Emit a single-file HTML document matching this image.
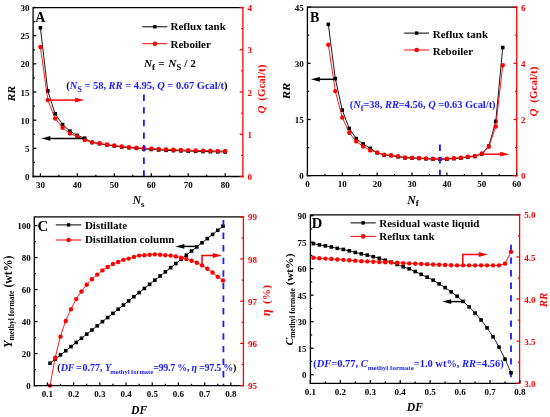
<!DOCTYPE html>
<html><head><meta charset="utf-8"><title>Figure</title>
<style>html,body{margin:0;padding:0;background:#fff;width:550px;height:417px;overflow:hidden}svg{display:block;filter:blur(0.3px)}</style>
</head><body>
<svg width="550" height="417" viewBox="0 0 550 417" font-family="&#39;Liberation Serif&#39;, &#39;Times New Roman&#39;, serif" font-weight="bold">
<rect width="550" height="417" fill="#fff"/>
<polyline points="40.4,27.79 47.79,90.88 55.18,113.8 62.58,124.62 69.97,131.1 77.36,135.38 84.75,138.2 92.14,142.53 99.54,143.72 106.93,144.96 114.32,145.97 121.71,146.98 129.1,147.72 136.5,148.34 143.89,148.9 151.28,149.46 158.67,149.91 166.06,150.31 173.46,150.59 180.85,150.87 188.24,151.1 195.63,151.32 203.02,151.49 210.42,151.66 217.81,151.83 225.2,151.94" fill="none" stroke="#000" stroke-width="0.9" stroke-linejoin="round"/>
<rect x="38.6" y="25.99" width="3.6" height="3.6" fill="#000"/>
<rect x="45.99" y="89.08" width="3.6" height="3.6" fill="#000"/>
<rect x="53.38" y="112" width="3.6" height="3.6" fill="#000"/>
<rect x="60.78" y="122.82" width="3.6" height="3.6" fill="#000"/>
<rect x="68.17" y="129.3" width="3.6" height="3.6" fill="#000"/>
<rect x="75.56" y="133.58" width="3.6" height="3.6" fill="#000"/>
<rect x="82.95" y="136.4" width="3.6" height="3.6" fill="#000"/>
<rect x="90.34" y="140.73" width="3.6" height="3.6" fill="#000"/>
<rect x="97.74" y="141.92" width="3.6" height="3.6" fill="#000"/>
<rect x="105.13" y="143.16" width="3.6" height="3.6" fill="#000"/>
<rect x="112.52" y="144.17" width="3.6" height="3.6" fill="#000"/>
<rect x="119.91" y="145.18" width="3.6" height="3.6" fill="#000"/>
<rect x="127.3" y="145.92" width="3.6" height="3.6" fill="#000"/>
<rect x="134.7" y="146.53" width="3.6" height="3.6" fill="#000"/>
<rect x="142.09" y="147.1" width="3.6" height="3.6" fill="#000"/>
<rect x="149.48" y="147.66" width="3.6" height="3.6" fill="#000"/>
<rect x="156.87" y="148.11" width="3.6" height="3.6" fill="#000"/>
<rect x="164.26" y="148.51" width="3.6" height="3.6" fill="#000"/>
<rect x="171.66" y="148.79" width="3.6" height="3.6" fill="#000"/>
<rect x="179.05" y="149.07" width="3.6" height="3.6" fill="#000"/>
<rect x="186.44" y="149.3" width="3.6" height="3.6" fill="#000"/>
<rect x="193.83" y="149.52" width="3.6" height="3.6" fill="#000"/>
<rect x="201.22" y="149.69" width="3.6" height="3.6" fill="#000"/>
<rect x="208.62" y="149.86" width="3.6" height="3.6" fill="#000"/>
<rect x="216.01" y="150.03" width="3.6" height="3.6" fill="#000"/>
<rect x="223.4" y="150.14" width="3.6" height="3.6" fill="#000"/>
<polyline points="40.4,46.93 47.79,100.11 55.18,118.59 62.58,127.77 69.97,133.52 77.36,136.78 84.75,140 92.14,142.19 99.54,143.32 106.93,144.5 114.32,145.52 121.71,146.47 129.1,147.21 136.5,147.77 143.89,148.22 151.28,148.67 158.67,149.07 166.06,149.4 173.46,149.69 180.85,149.97 188.24,150.19 195.63,150.42 203.02,150.59 210.42,150.76 217.81,150.92 225.2,151.04" fill="none" stroke="#f00" stroke-width="0.9" stroke-linejoin="round"/>
<circle cx="40.4" cy="46.93" r="2.2" fill="#f00"/>
<circle cx="47.79" cy="100.11" r="2.2" fill="#f00"/>
<circle cx="55.18" cy="118.59" r="2.2" fill="#f00"/>
<circle cx="62.58" cy="127.77" r="2.2" fill="#f00"/>
<circle cx="69.97" cy="133.52" r="2.2" fill="#f00"/>
<circle cx="77.36" cy="136.78" r="2.2" fill="#f00"/>
<circle cx="84.75" cy="140" r="2.2" fill="#f00"/>
<circle cx="92.14" cy="142.19" r="2.2" fill="#f00"/>
<circle cx="99.54" cy="143.32" r="2.2" fill="#f00"/>
<circle cx="106.93" cy="144.5" r="2.2" fill="#f00"/>
<circle cx="114.32" cy="145.52" r="2.2" fill="#f00"/>
<circle cx="121.71" cy="146.47" r="2.2" fill="#f00"/>
<circle cx="129.1" cy="147.21" r="2.2" fill="#f00"/>
<circle cx="136.5" cy="147.77" r="2.2" fill="#f00"/>
<circle cx="143.89" cy="148.22" r="2.2" fill="#f00"/>
<circle cx="151.28" cy="148.67" r="2.2" fill="#f00"/>
<circle cx="158.67" cy="149.07" r="2.2" fill="#f00"/>
<circle cx="166.06" cy="149.4" r="2.2" fill="#f00"/>
<circle cx="173.46" cy="149.69" r="2.2" fill="#f00"/>
<circle cx="180.85" cy="149.97" r="2.2" fill="#f00"/>
<circle cx="188.24" cy="150.19" r="2.2" fill="#f00"/>
<circle cx="195.63" cy="150.42" r="2.2" fill="#f00"/>
<circle cx="203.02" cy="150.59" r="2.2" fill="#f00"/>
<circle cx="210.42" cy="150.76" r="2.2" fill="#f00"/>
<circle cx="217.81" cy="150.92" r="2.2" fill="#f00"/>
<circle cx="225.2" cy="151.04" r="2.2" fill="#f00"/>
<line x1="143.89" y1="94.6" x2="143.89" y2="176" stroke="#1a1aff" stroke-width="1.8" stroke-dasharray="6.4 6.2"/>
<path d="M33.1 176.5 V7.6 H242.9" fill="none" stroke="#000" stroke-width="1.3" stroke-linecap="square"/>
<line x1="33.1" y1="176.5" x2="242.9" y2="176.5" stroke="#000" stroke-width="1.3" stroke-linecap="square"/>
<line x1="242.9" y1="7.6" x2="242.9" y2="176.5" stroke="#f00" stroke-width="1.3" stroke-linecap="square"/>
<line x1="33.1" y1="176.5" x2="36.3" y2="176.5" stroke="#000" stroke-width="1.25" />
<line x1="33.1" y1="148.34" x2="36.3" y2="148.34" stroke="#000" stroke-width="1.25" />
<line x1="33.1" y1="120.17" x2="36.3" y2="120.17" stroke="#000" stroke-width="1.25" />
<line x1="33.1" y1="92" x2="36.3" y2="92" stroke="#000" stroke-width="1.25" />
<line x1="33.1" y1="63.84" x2="36.3" y2="63.84" stroke="#000" stroke-width="1.25" />
<line x1="33.1" y1="35.68" x2="36.3" y2="35.68" stroke="#000" stroke-width="1.25" />
<line x1="33.1" y1="7.51" x2="36.3" y2="7.51" stroke="#000" stroke-width="1.25" />
<line x1="33.1" y1="162.42" x2="34.9" y2="162.42" stroke="#000" stroke-width="1.25" />
<line x1="33.1" y1="134.25" x2="34.9" y2="134.25" stroke="#000" stroke-width="1.25" />
<line x1="33.1" y1="106.09" x2="34.9" y2="106.09" stroke="#000" stroke-width="1.25" />
<line x1="33.1" y1="77.92" x2="34.9" y2="77.92" stroke="#000" stroke-width="1.25" />
<line x1="33.1" y1="49.76" x2="34.9" y2="49.76" stroke="#000" stroke-width="1.25" />
<line x1="33.1" y1="21.59" x2="34.9" y2="21.59" stroke="#000" stroke-width="1.25" />
<line x1="40.4" y1="176.5" x2="40.4" y2="173.3" stroke="#000" stroke-width="1.25" />
<line x1="77.36" y1="176.5" x2="77.36" y2="173.3" stroke="#000" stroke-width="1.25" />
<line x1="114.32" y1="176.5" x2="114.32" y2="173.3" stroke="#000" stroke-width="1.25" />
<line x1="151.28" y1="176.5" x2="151.28" y2="173.3" stroke="#000" stroke-width="1.25" />
<line x1="188.24" y1="176.5" x2="188.24" y2="173.3" stroke="#000" stroke-width="1.25" />
<line x1="225.2" y1="176.5" x2="225.2" y2="173.3" stroke="#000" stroke-width="1.25" />
<line x1="58.88" y1="176.5" x2="58.88" y2="174.7" stroke="#000" stroke-width="1.25" />
<line x1="95.84" y1="176.5" x2="95.84" y2="174.7" stroke="#000" stroke-width="1.25" />
<line x1="132.8" y1="176.5" x2="132.8" y2="174.7" stroke="#000" stroke-width="1.25" />
<line x1="169.76" y1="176.5" x2="169.76" y2="174.7" stroke="#000" stroke-width="1.25" />
<line x1="206.72" y1="176.5" x2="206.72" y2="174.7" stroke="#000" stroke-width="1.25" />
<line x1="239.7" y1="176.5" x2="242.9" y2="176.5" stroke="#f00" stroke-width="1.25" />
<line x1="239.7" y1="134.25" x2="242.9" y2="134.25" stroke="#f00" stroke-width="1.25" />
<line x1="239.7" y1="92" x2="242.9" y2="92" stroke="#f00" stroke-width="1.25" />
<line x1="239.7" y1="49.75" x2="242.9" y2="49.75" stroke="#f00" stroke-width="1.25" />
<line x1="239.7" y1="7.5" x2="242.9" y2="7.5" stroke="#f00" stroke-width="1.25" />
<line x1="241.1" y1="155.38" x2="242.9" y2="155.38" stroke="#f00" stroke-width="1.25" />
<line x1="241.1" y1="113.12" x2="242.9" y2="113.12" stroke="#f00" stroke-width="1.25" />
<line x1="241.1" y1="70.88" x2="242.9" y2="70.88" stroke="#f00" stroke-width="1.25" />
<line x1="241.1" y1="28.62" x2="242.9" y2="28.62" stroke="#f00" stroke-width="1.25" />
<text x="29.4" y="180.1" font-size="9.0" text-anchor="end" fill="#000" >0</text>
<text x="29.4" y="151.94" font-size="9.0" text-anchor="end" fill="#000" >5</text>
<text x="29.4" y="123.77" font-size="9.0" text-anchor="end" fill="#000" >10</text>
<text x="29.4" y="95.6" font-size="9.0" text-anchor="end" fill="#000" >15</text>
<text x="29.4" y="67.44" font-size="9.0" text-anchor="end" fill="#000" >20</text>
<text x="29.4" y="39.28" font-size="9.0" text-anchor="end" fill="#000" >25</text>
<text x="29.4" y="11.11" font-size="9.0" text-anchor="end" fill="#000" >30</text>
<text x="40.4" y="187.8" font-size="9.0" text-anchor="middle" fill="#000" >30</text>
<text x="77.36" y="187.8" font-size="9.0" text-anchor="middle" fill="#000" >40</text>
<text x="114.32" y="187.8" font-size="9.0" text-anchor="middle" fill="#000" >50</text>
<text x="151.28" y="187.8" font-size="9.0" text-anchor="middle" fill="#000" >60</text>
<text x="188.24" y="187.8" font-size="9.0" text-anchor="middle" fill="#000" >70</text>
<text x="225.2" y="187.8" font-size="9.0" text-anchor="middle" fill="#000" >80</text>
<text x="247.5" y="180.1" font-size="9.0" text-anchor="start" fill="#f00" >0</text>
<text x="247.5" y="137.85" font-size="9.0" text-anchor="start" fill="#f00" >1</text>
<text x="247.5" y="95.6" font-size="9.0" text-anchor="start" fill="#f00" >2</text>
<text x="247.5" y="53.35" font-size="9.0" text-anchor="start" fill="#f00" >3</text>
<text x="247.5" y="11.1" font-size="9.0" text-anchor="start" fill="#f00" >4</text>
<path d="M47.4,100.1 L76.2,100.1" fill="none" stroke="#f00" stroke-width="1.5"/>
<polygon points="84.2,100.1 75.2,102.5 75.2,97.7" fill="#f00"/>
<path d="M84.5,138.4 L49.3,138.4" fill="none" stroke="#000" stroke-width="1.5"/>
<polygon points="41.3,138.4 50.3,136 50.3,140.8" fill="#000"/>
<text x="35.3" y="22.2" font-size="14.0" text-anchor="start" fill="#000" >A</text>
<line x1="142.3" y1="26.8" x2="167.4" y2="26.8" stroke="#000" stroke-width="1.0" />
<rect x="153.15" y="25.1" width="3.4" height="3.4" fill="#000"/>
<text x="170.5" y="29.8" font-size="11" text-anchor="start" fill="#000" >Reflux tank</text>
<line x1="142.3" y1="43.7" x2="167.4" y2="43.7" stroke="#f00" stroke-width="1.0" />
<circle cx="154.85" cy="43.7" r="2.3" fill="#f00"/>
<text x="170.5" y="48" font-size="11" text-anchor="start" fill="#000" >Reboiler</text>
<text x="144" y="66.8" font-size="11.2" text-anchor="start" fill="#000" ><tspan font-style="italic">N</tspan><tspan font-size="8.8" dy="3.0">f</tspan><tspan dy="-3.0" dx="0.4"> = </tspan><tspan font-style="italic" dx="0.9">N</tspan><tspan font-size="8.6" dy="2.8">S</tspan><tspan dy="-2.8" dx="0.3"> / 2</tspan></text>
<text x="66.2" y="89.3" font-size="10.45" text-anchor="start" fill="#000" >(<tspan fill="#1a1aff"><tspan font-style="italic">N</tspan><tspan font-size="8.2" dy="2.6">S</tspan><tspan dy="-2.6"> = 58, </tspan><tspan font-style="italic">RR</tspan> = 4.95, <tspan font-style="italic">Q</tspan> = 0.67 Gcal/t</tspan>)</text>
<text transform="translate(15.3,93.65) rotate(-90) scale(1.12,1)" font-size="10.6" text-anchor="middle" font-style="italic">RR</text>
<text x="138.6" y="203.9" font-size="11.6" text-anchor="middle" fill="#000" ><tspan font-style="italic">N</tspan><tspan font-size="9" dy="2.8">s</tspan></text>
<text transform="translate(265,113.6) rotate(-90) scale(1.06,1)" font-size="10.4" fill="#f00"><tspan font-style="italic">Q</tspan><tspan dx="4.6">(Gcal/t)</tspan></text>
<polyline points="328.33,24.32 335.3,78.65 342.28,110.13 349.26,128.49 356.23,138.6 363.21,144 370.18,148.38 377.16,152.82 384.14,155.07 391.11,155.63 398.09,156.76 405.06,157.88 412.04,158.16 419.02,158.45 425.99,158.81 432.97,159.21 439.94,159.29 446.92,159.21 453.9,158.59 460.87,158.16 467.85,157.04 474.82,156.48 481.8,153.95 488.78,146.1 495.75,121.37 502.73,47.55" fill="none" stroke="#000" stroke-width="0.9" stroke-linejoin="round"/>
<rect x="326.53" y="22.52" width="3.6" height="3.6" fill="#000"/>
<rect x="333.5" y="76.85" width="3.6" height="3.6" fill="#000"/>
<rect x="340.48" y="108.33" width="3.6" height="3.6" fill="#000"/>
<rect x="347.46" y="126.69" width="3.6" height="3.6" fill="#000"/>
<rect x="354.43" y="136.8" width="3.6" height="3.6" fill="#000"/>
<rect x="361.41" y="142.2" width="3.6" height="3.6" fill="#000"/>
<rect x="368.38" y="146.58" width="3.6" height="3.6" fill="#000"/>
<rect x="375.36" y="151.02" width="3.6" height="3.6" fill="#000"/>
<rect x="382.34" y="153.27" width="3.6" height="3.6" fill="#000"/>
<rect x="389.31" y="153.83" width="3.6" height="3.6" fill="#000"/>
<rect x="396.29" y="154.96" width="3.6" height="3.6" fill="#000"/>
<rect x="403.26" y="156.08" width="3.6" height="3.6" fill="#000"/>
<rect x="410.24" y="156.36" width="3.6" height="3.6" fill="#000"/>
<rect x="417.22" y="156.65" width="3.6" height="3.6" fill="#000"/>
<rect x="424.19" y="157.01" width="3.6" height="3.6" fill="#000"/>
<rect x="431.17" y="157.41" width="3.6" height="3.6" fill="#000"/>
<rect x="438.14" y="157.49" width="3.6" height="3.6" fill="#000"/>
<rect x="445.12" y="157.41" width="3.6" height="3.6" fill="#000"/>
<rect x="452.1" y="156.79" width="3.6" height="3.6" fill="#000"/>
<rect x="459.07" y="156.36" width="3.6" height="3.6" fill="#000"/>
<rect x="466.05" y="155.24" width="3.6" height="3.6" fill="#000"/>
<rect x="473.02" y="154.68" width="3.6" height="3.6" fill="#000"/>
<rect x="480" y="152.15" width="3.6" height="3.6" fill="#000"/>
<rect x="486.98" y="144.3" width="3.6" height="3.6" fill="#000"/>
<rect x="493.95" y="119.57" width="3.6" height="3.6" fill="#000"/>
<rect x="500.93" y="45.75" width="3.6" height="3.6" fill="#000"/>
<polyline points="328.33,44.75 335.3,91.12 342.28,117.53 349.26,132.71 356.23,141.42 363.21,146.48 370.18,150.41 377.16,152.38 384.14,154.62 391.11,155.19 398.09,156.31 405.06,157.44 412.04,157.72 419.02,158 425.99,158.36 432.97,158.76 439.94,158.84 446.92,158.76 453.9,158.14 460.87,157.72 467.85,156.59 474.82,156.03 481.8,153.5 488.78,146.76 495.75,126.52 502.73,65.27" fill="none" stroke="#f00" stroke-width="0.9" stroke-linejoin="round"/>
<circle cx="328.33" cy="44.75" r="2.2" fill="#f00"/>
<circle cx="335.3" cy="91.12" r="2.2" fill="#f00"/>
<circle cx="342.28" cy="117.53" r="2.2" fill="#f00"/>
<circle cx="349.26" cy="132.71" r="2.2" fill="#f00"/>
<circle cx="356.23" cy="141.42" r="2.2" fill="#f00"/>
<circle cx="363.21" cy="146.48" r="2.2" fill="#f00"/>
<circle cx="370.18" cy="150.41" r="2.2" fill="#f00"/>
<circle cx="377.16" cy="152.38" r="2.2" fill="#f00"/>
<circle cx="384.14" cy="154.62" r="2.2" fill="#f00"/>
<circle cx="391.11" cy="155.19" r="2.2" fill="#f00"/>
<circle cx="398.09" cy="156.31" r="2.2" fill="#f00"/>
<circle cx="405.06" cy="157.44" r="2.2" fill="#f00"/>
<circle cx="412.04" cy="157.72" r="2.2" fill="#f00"/>
<circle cx="419.02" cy="158" r="2.2" fill="#f00"/>
<circle cx="425.99" cy="158.36" r="2.2" fill="#f00"/>
<circle cx="432.97" cy="158.76" r="2.2" fill="#f00"/>
<circle cx="439.94" cy="158.84" r="2.2" fill="#f00"/>
<circle cx="446.92" cy="158.76" r="2.2" fill="#f00"/>
<circle cx="453.9" cy="158.14" r="2.2" fill="#f00"/>
<circle cx="460.87" cy="157.72" r="2.2" fill="#f00"/>
<circle cx="467.85" cy="156.59" r="2.2" fill="#f00"/>
<circle cx="474.82" cy="156.03" r="2.2" fill="#f00"/>
<circle cx="481.8" cy="153.5" r="2.2" fill="#f00"/>
<circle cx="488.78" cy="146.76" r="2.2" fill="#f00"/>
<circle cx="495.75" cy="126.52" r="2.2" fill="#f00"/>
<circle cx="502.73" cy="65.27" r="2.2" fill="#f00"/>
<line x1="439.94" y1="144.5" x2="439.94" y2="175.5" stroke="#1a1aff" stroke-width="1.8" stroke-dasharray="6.4 6.2"/>
<path d="M307.4 175.7 V7.2 H516.7" fill="none" stroke="#000" stroke-width="1.3" stroke-linecap="square"/>
<line x1="307.4" y1="175.7" x2="516.7" y2="175.7" stroke="#000" stroke-width="1.3" stroke-linecap="square"/>
<line x1="516.7" y1="7.2" x2="516.7" y2="175.7" stroke="#f00" stroke-width="1.3" stroke-linecap="square"/>
<line x1="307.4" y1="175.7" x2="310.6" y2="175.7" stroke="#000" stroke-width="1.25" />
<line x1="307.4" y1="119.49" x2="310.6" y2="119.49" stroke="#000" stroke-width="1.25" />
<line x1="307.4" y1="63.29" x2="310.6" y2="63.29" stroke="#000" stroke-width="1.25" />
<line x1="307.4" y1="7.08" x2="310.6" y2="7.08" stroke="#000" stroke-width="1.25" />
<line x1="307.4" y1="147.6" x2="309.2" y2="147.6" stroke="#000" stroke-width="1.25" />
<line x1="307.4" y1="91.39" x2="309.2" y2="91.39" stroke="#000" stroke-width="1.25" />
<line x1="307.4" y1="35.19" x2="309.2" y2="35.19" stroke="#000" stroke-width="1.25" />
<line x1="307.4" y1="175.7" x2="307.4" y2="172.5" stroke="#000" stroke-width="1.25" />
<line x1="342.28" y1="175.7" x2="342.28" y2="172.5" stroke="#000" stroke-width="1.25" />
<line x1="377.16" y1="175.7" x2="377.16" y2="172.5" stroke="#000" stroke-width="1.25" />
<line x1="412.04" y1="175.7" x2="412.04" y2="172.5" stroke="#000" stroke-width="1.25" />
<line x1="446.92" y1="175.7" x2="446.92" y2="172.5" stroke="#000" stroke-width="1.25" />
<line x1="481.8" y1="175.7" x2="481.8" y2="172.5" stroke="#000" stroke-width="1.25" />
<line x1="516.68" y1="175.7" x2="516.68" y2="172.5" stroke="#000" stroke-width="1.25" />
<line x1="324.84" y1="175.7" x2="324.84" y2="173.9" stroke="#000" stroke-width="1.25" />
<line x1="359.72" y1="175.7" x2="359.72" y2="173.9" stroke="#000" stroke-width="1.25" />
<line x1="394.6" y1="175.7" x2="394.6" y2="173.9" stroke="#000" stroke-width="1.25" />
<line x1="429.48" y1="175.7" x2="429.48" y2="173.9" stroke="#000" stroke-width="1.25" />
<line x1="464.36" y1="175.7" x2="464.36" y2="173.9" stroke="#000" stroke-width="1.25" />
<line x1="499.24" y1="175.7" x2="499.24" y2="173.9" stroke="#000" stroke-width="1.25" />
<line x1="513.5" y1="175.7" x2="516.7" y2="175.7" stroke="#f00" stroke-width="1.25" />
<line x1="513.5" y1="119.5" x2="516.7" y2="119.5" stroke="#f00" stroke-width="1.25" />
<line x1="513.5" y1="63.3" x2="516.7" y2="63.3" stroke="#f00" stroke-width="1.25" />
<line x1="513.5" y1="7.1" x2="516.7" y2="7.1" stroke="#f00" stroke-width="1.25" />
<line x1="514.9" y1="147.6" x2="516.7" y2="147.6" stroke="#f00" stroke-width="1.25" />
<line x1="514.9" y1="91.4" x2="516.7" y2="91.4" stroke="#f00" stroke-width="1.25" />
<line x1="514.9" y1="35.2" x2="516.7" y2="35.2" stroke="#f00" stroke-width="1.25" />
<text x="303.7" y="179.3" font-size="9.0" text-anchor="end" fill="#000" >0</text>
<text x="303.7" y="123.09" font-size="9.0" text-anchor="end" fill="#000" >15</text>
<text x="303.7" y="66.89" font-size="9.0" text-anchor="end" fill="#000" >30</text>
<text x="303.7" y="10.68" font-size="9.0" text-anchor="end" fill="#000" >45</text>
<text x="307.4" y="187" font-size="9.0" text-anchor="middle" fill="#000" >0</text>
<text x="342.28" y="187" font-size="9.0" text-anchor="middle" fill="#000" >10</text>
<text x="377.16" y="187" font-size="9.0" text-anchor="middle" fill="#000" >20</text>
<text x="412.04" y="187" font-size="9.0" text-anchor="middle" fill="#000" >30</text>
<text x="446.92" y="187" font-size="9.0" text-anchor="middle" fill="#000" >40</text>
<text x="481.8" y="187" font-size="9.0" text-anchor="middle" fill="#000" >50</text>
<text x="516.68" y="187" font-size="9.0" text-anchor="middle" fill="#000" >60</text>
<text x="520.9" y="179.3" font-size="9.0" text-anchor="start" fill="#f00" >0</text>
<text x="520.9" y="123.1" font-size="9.0" text-anchor="start" fill="#f00" >2</text>
<text x="520.9" y="66.9" font-size="9.0" text-anchor="start" fill="#f00" >4</text>
<text x="520.9" y="10.7" font-size="9.0" text-anchor="start" fill="#f00" >6</text>
<path d="M335.2,79.3 L318.9,79.3" fill="none" stroke="#000" stroke-width="1.5"/>
<polygon points="310.9,79.3 319.9,76.9 319.9,81.7" fill="#000"/>
<path d="M481.7,154.2 L501.2,154.2" fill="none" stroke="#f00" stroke-width="1.5"/>
<polygon points="509.2,154.2 500.2,156.6 500.2,151.8" fill="#f00"/>
<text x="309.9" y="22" font-size="14.0" text-anchor="start" fill="#000" >B</text>
<line x1="404.2" y1="33.1" x2="429.1" y2="33.1" stroke="#000" stroke-width="1.0" />
<rect x="414.95" y="31.4" width="3.4" height="3.4" fill="#000"/>
<text x="432.7" y="37.6" font-size="11" text-anchor="start" fill="#000" >Reflux tank</text>
<line x1="404.2" y1="50" x2="429.1" y2="50" stroke="#f00" stroke-width="1.0" />
<circle cx="416.65" cy="50" r="2.3" fill="#f00"/>
<text x="432.7" y="54.8" font-size="11" text-anchor="start" fill="#000" >Reboiler</text>
<text x="349.8" y="108.3" font-size="10.4" text-anchor="start" fill="#000" ><tspan fill="#1a1aff">(<tspan font-style="italic">N</tspan><tspan font-size="8" dy="2.5">f</tspan><tspan dy="-2.5">=38, </tspan><tspan font-style="italic">RR</tspan>=4.56, <tspan font-style="italic">Q</tspan> =0.63 Gcal/t)</tspan></text>
<text transform="translate(290.4,90.9) rotate(-90) scale(1.15,1)" font-size="10.8" text-anchor="middle" font-style="italic">RR</text>
<text x="413" y="203.7" font-size="11.6" text-anchor="middle" fill="#000" ><tspan font-style="italic">N</tspan><tspan font-size="9" dy="2.6">f</tspan></text>
<text transform="translate(536.8,116.6) rotate(-90) scale(1.06,1)" font-size="10.4" fill="#f00"><tspan font-style="italic">Q</tspan><tspan dx="5.6">(Gcal/t)</tspan></text>
<polyline points="50.03,363.2 55.27,359.05 60.51,354.89 65.75,350.74 70.99,346.59 76.24,342.43 81.48,338.28 86.72,334.12 91.96,329.97 97.2,325.82 102.45,321.66 107.69,317.51 112.93,313.36 118.17,309.2 123.41,305.05 128.66,300.9 133.9,296.74 139.14,292.59 144.38,288.44 149.62,284.28 154.87,280.13 160.11,275.97 165.35,271.82 170.59,267.67 175.83,263.51 181.08,259.36 186.32,255.21 191.56,251.05 196.8,246.9 202.04,242.75 207.29,238.59 212.53,234.44 217.77,230.28 223.01,226.13" fill="none" stroke="#000" stroke-width="0.9" stroke-linejoin="round"/>
<rect x="48.23" y="361.4" width="3.6" height="3.6" fill="#000"/>
<rect x="53.47" y="357.25" width="3.6" height="3.6" fill="#000"/>
<rect x="58.71" y="353.09" width="3.6" height="3.6" fill="#000"/>
<rect x="63.95" y="348.94" width="3.6" height="3.6" fill="#000"/>
<rect x="69.19" y="344.79" width="3.6" height="3.6" fill="#000"/>
<rect x="74.44" y="340.63" width="3.6" height="3.6" fill="#000"/>
<rect x="79.68" y="336.48" width="3.6" height="3.6" fill="#000"/>
<rect x="84.92" y="332.32" width="3.6" height="3.6" fill="#000"/>
<rect x="90.16" y="328.17" width="3.6" height="3.6" fill="#000"/>
<rect x="95.4" y="324.02" width="3.6" height="3.6" fill="#000"/>
<rect x="100.65" y="319.86" width="3.6" height="3.6" fill="#000"/>
<rect x="105.89" y="315.71" width="3.6" height="3.6" fill="#000"/>
<rect x="111.13" y="311.56" width="3.6" height="3.6" fill="#000"/>
<rect x="116.37" y="307.4" width="3.6" height="3.6" fill="#000"/>
<rect x="121.61" y="303.25" width="3.6" height="3.6" fill="#000"/>
<rect x="126.86" y="299.1" width="3.6" height="3.6" fill="#000"/>
<rect x="132.1" y="294.94" width="3.6" height="3.6" fill="#000"/>
<rect x="137.34" y="290.79" width="3.6" height="3.6" fill="#000"/>
<rect x="142.58" y="286.64" width="3.6" height="3.6" fill="#000"/>
<rect x="147.82" y="282.48" width="3.6" height="3.6" fill="#000"/>
<rect x="153.07" y="278.33" width="3.6" height="3.6" fill="#000"/>
<rect x="158.31" y="274.17" width="3.6" height="3.6" fill="#000"/>
<rect x="163.55" y="270.02" width="3.6" height="3.6" fill="#000"/>
<rect x="168.79" y="265.87" width="3.6" height="3.6" fill="#000"/>
<rect x="174.03" y="261.71" width="3.6" height="3.6" fill="#000"/>
<rect x="179.28" y="257.56" width="3.6" height="3.6" fill="#000"/>
<rect x="184.52" y="253.41" width="3.6" height="3.6" fill="#000"/>
<rect x="189.76" y="249.25" width="3.6" height="3.6" fill="#000"/>
<rect x="195" y="245.1" width="3.6" height="3.6" fill="#000"/>
<rect x="200.24" y="240.95" width="3.6" height="3.6" fill="#000"/>
<rect x="205.49" y="236.79" width="3.6" height="3.6" fill="#000"/>
<rect x="210.73" y="232.64" width="3.6" height="3.6" fill="#000"/>
<rect x="215.97" y="228.48" width="3.6" height="3.6" fill="#000"/>
<rect x="221.21" y="224.33" width="3.6" height="3.6" fill="#000"/>
<path d="M50.03,385.6 C50.9,380.96 53.52,365.91 55.27,357.75 C57.02,349.59 58.76,342.77 60.51,336.65 C62.26,330.53 64,325.61 65.75,321.03 C67.5,316.46 69.25,312.88 70.99,309.22 C72.74,305.56 74.49,302.04 76.24,299.09 C77.98,296.14 79.73,293.89 81.48,291.49 C83.23,289.1 84.97,286.78 86.72,284.74 C88.47,282.7 90.21,280.94 91.96,279.26 C93.71,277.57 95.46,276.09 97.2,274.61 C98.95,273.14 100.7,271.66 102.45,270.39 C104.19,269.13 105.94,268.07 107.69,267.02 C109.44,265.96 111.18,264.91 112.93,264.06 C114.68,263.22 116.42,262.66 118.17,261.95 C119.92,261.25 121.67,260.41 123.41,259.84 C125.16,259.28 126.91,259.07 128.66,258.58 C130.4,258.09 132.15,257.38 133.9,256.89 C135.65,256.4 137.39,255.91 139.14,255.62 C140.89,255.34 142.63,255.34 144.38,255.2 C146.13,255.06 147.88,254.92 149.62,254.78 C151.37,254.64 153.12,254.36 154.87,254.36 C156.61,254.36 158.36,254.64 160.11,254.78 C161.86,254.92 163.6,255.06 165.35,255.2 C167.1,255.34 168.84,255.41 170.59,255.62 C172.34,255.84 174.09,256.12 175.83,256.47 C177.58,256.82 179.33,257.31 181.08,257.73 C182.82,258.16 184.57,258.51 186.32,259 C188.07,259.49 189.81,260.06 191.56,260.69 C193.31,261.32 195.05,262.02 196.8,262.8 C198.55,263.57 200.3,264.35 202.04,265.33 C203.79,266.31 205.54,267.51 207.29,268.71 C209.03,269.9 210.78,271.17 212.53,272.5 C214.28,273.84 216.02,275.39 217.77,276.72 C219.52,278.06 222.14,279.89 223.01,280.52" fill="none" stroke="#f00" stroke-width="0.9"/>
<circle cx="50.03" cy="385.6" r="2.2" fill="#f00"/>
<circle cx="55.27" cy="357.75" r="2.2" fill="#f00"/>
<circle cx="60.51" cy="336.65" r="2.2" fill="#f00"/>
<circle cx="65.75" cy="321.03" r="2.2" fill="#f00"/>
<circle cx="70.99" cy="309.22" r="2.2" fill="#f00"/>
<circle cx="76.24" cy="299.09" r="2.2" fill="#f00"/>
<circle cx="81.48" cy="291.49" r="2.2" fill="#f00"/>
<circle cx="86.72" cy="284.74" r="2.2" fill="#f00"/>
<circle cx="91.96" cy="279.26" r="2.2" fill="#f00"/>
<circle cx="97.2" cy="274.61" r="2.2" fill="#f00"/>
<circle cx="102.45" cy="270.39" r="2.2" fill="#f00"/>
<circle cx="107.69" cy="267.02" r="2.2" fill="#f00"/>
<circle cx="112.93" cy="264.06" r="2.2" fill="#f00"/>
<circle cx="118.17" cy="261.95" r="2.2" fill="#f00"/>
<circle cx="123.41" cy="259.84" r="2.2" fill="#f00"/>
<circle cx="128.66" cy="258.58" r="2.2" fill="#f00"/>
<circle cx="133.9" cy="256.89" r="2.2" fill="#f00"/>
<circle cx="139.14" cy="255.62" r="2.2" fill="#f00"/>
<circle cx="144.38" cy="255.2" r="2.2" fill="#f00"/>
<circle cx="149.62" cy="254.78" r="2.2" fill="#f00"/>
<circle cx="154.87" cy="254.36" r="2.2" fill="#f00"/>
<circle cx="160.11" cy="254.78" r="2.2" fill="#f00"/>
<circle cx="165.35" cy="255.2" r="2.2" fill="#f00"/>
<circle cx="170.59" cy="255.62" r="2.2" fill="#f00"/>
<circle cx="175.83" cy="256.47" r="2.2" fill="#f00"/>
<circle cx="181.08" cy="257.73" r="2.2" fill="#f00"/>
<circle cx="186.32" cy="259" r="2.2" fill="#f00"/>
<circle cx="191.56" cy="260.69" r="2.2" fill="#f00"/>
<circle cx="196.8" cy="262.8" r="2.2" fill="#f00"/>
<circle cx="202.04" cy="265.33" r="2.2" fill="#f00"/>
<circle cx="207.29" cy="268.71" r="2.2" fill="#f00"/>
<circle cx="212.53" cy="272.5" r="2.2" fill="#f00"/>
<circle cx="217.77" cy="276.72" r="2.2" fill="#f00"/>
<circle cx="223.01" cy="280.52" r="2.2" fill="#f00"/>
<line x1="223.41" y1="219.9" x2="223.41" y2="385.5" stroke="#1a1aff" stroke-width="1.8" stroke-dasharray="6.4 6.2"/>
<path d="M34.3 385.6 V216.8 H243.4" fill="none" stroke="#000" stroke-width="1.3" stroke-linecap="square"/>
<line x1="34.3" y1="385.6" x2="243.4" y2="385.6" stroke="#000" stroke-width="1.3" stroke-linecap="square"/>
<line x1="243.4" y1="216.8" x2="243.4" y2="385.6" stroke="#f00" stroke-width="1.3" stroke-linecap="square"/>
<line x1="34.3" y1="385.6" x2="37.5" y2="385.6" stroke="#000" stroke-width="1.25" />
<line x1="34.3" y1="353.6" x2="37.5" y2="353.6" stroke="#000" stroke-width="1.25" />
<line x1="34.3" y1="321.6" x2="37.5" y2="321.6" stroke="#000" stroke-width="1.25" />
<line x1="34.3" y1="289.6" x2="37.5" y2="289.6" stroke="#000" stroke-width="1.25" />
<line x1="34.3" y1="257.6" x2="37.5" y2="257.6" stroke="#000" stroke-width="1.25" />
<line x1="34.3" y1="225.6" x2="37.5" y2="225.6" stroke="#000" stroke-width="1.25" />
<line x1="34.3" y1="369.6" x2="36.1" y2="369.6" stroke="#000" stroke-width="1.25" />
<line x1="34.3" y1="337.6" x2="36.1" y2="337.6" stroke="#000" stroke-width="1.25" />
<line x1="34.3" y1="305.6" x2="36.1" y2="305.6" stroke="#000" stroke-width="1.25" />
<line x1="34.3" y1="273.6" x2="36.1" y2="273.6" stroke="#000" stroke-width="1.25" />
<line x1="34.3" y1="241.6" x2="36.1" y2="241.6" stroke="#000" stroke-width="1.25" />
<line x1="47.41" y1="385.6" x2="47.41" y2="382.4" stroke="#000" stroke-width="1.25" />
<line x1="73.62" y1="385.6" x2="73.62" y2="382.4" stroke="#000" stroke-width="1.25" />
<line x1="99.83" y1="385.6" x2="99.83" y2="382.4" stroke="#000" stroke-width="1.25" />
<line x1="126.04" y1="385.6" x2="126.04" y2="382.4" stroke="#000" stroke-width="1.25" />
<line x1="152.25" y1="385.6" x2="152.25" y2="382.4" stroke="#000" stroke-width="1.25" />
<line x1="178.45" y1="385.6" x2="178.45" y2="382.4" stroke="#000" stroke-width="1.25" />
<line x1="204.66" y1="385.6" x2="204.66" y2="382.4" stroke="#000" stroke-width="1.25" />
<line x1="230.88" y1="385.6" x2="230.88" y2="382.4" stroke="#000" stroke-width="1.25" />
<line x1="60.51" y1="385.6" x2="60.51" y2="383.8" stroke="#000" stroke-width="1.25" />
<line x1="86.72" y1="385.6" x2="86.72" y2="383.8" stroke="#000" stroke-width="1.25" />
<line x1="112.93" y1="385.6" x2="112.93" y2="383.8" stroke="#000" stroke-width="1.25" />
<line x1="139.14" y1="385.6" x2="139.14" y2="383.8" stroke="#000" stroke-width="1.25" />
<line x1="165.35" y1="385.6" x2="165.35" y2="383.8" stroke="#000" stroke-width="1.25" />
<line x1="191.56" y1="385.6" x2="191.56" y2="383.8" stroke="#000" stroke-width="1.25" />
<line x1="217.77" y1="385.6" x2="217.77" y2="383.8" stroke="#000" stroke-width="1.25" />
<line x1="240.2" y1="385.6" x2="243.4" y2="385.6" stroke="#f00" stroke-width="1.25" />
<line x1="240.2" y1="343.4" x2="243.4" y2="343.4" stroke="#f00" stroke-width="1.25" />
<line x1="240.2" y1="301.2" x2="243.4" y2="301.2" stroke="#f00" stroke-width="1.25" />
<line x1="240.2" y1="259" x2="243.4" y2="259" stroke="#f00" stroke-width="1.25" />
<line x1="240.2" y1="216.8" x2="243.4" y2="216.8" stroke="#f00" stroke-width="1.25" />
<line x1="241.6" y1="364.5" x2="243.4" y2="364.5" stroke="#f00" stroke-width="1.25" />
<line x1="241.6" y1="322.3" x2="243.4" y2="322.3" stroke="#f00" stroke-width="1.25" />
<line x1="241.6" y1="280.1" x2="243.4" y2="280.1" stroke="#f00" stroke-width="1.25" />
<line x1="241.6" y1="237.9" x2="243.4" y2="237.9" stroke="#f00" stroke-width="1.25" />
<text x="30.7" y="389.2" font-size="9.0" text-anchor="end" fill="#000" >0</text>
<text x="30.7" y="357.2" font-size="9.0" text-anchor="end" fill="#000" >20</text>
<text x="30.7" y="325.2" font-size="9.0" text-anchor="end" fill="#000" >40</text>
<text x="30.7" y="293.2" font-size="9.0" text-anchor="end" fill="#000" >60</text>
<text x="30.7" y="261.2" font-size="9.0" text-anchor="end" fill="#000" >80</text>
<text x="30.7" y="229.2" font-size="9.0" text-anchor="end" fill="#000" >100</text>
<text x="47.41" y="396.9" font-size="9.0" text-anchor="middle" fill="#000" >0.1</text>
<text x="73.62" y="396.9" font-size="9.0" text-anchor="middle" fill="#000" >0.2</text>
<text x="99.83" y="396.9" font-size="9.0" text-anchor="middle" fill="#000" >0.3</text>
<text x="126.04" y="396.9" font-size="9.0" text-anchor="middle" fill="#000" >0.4</text>
<text x="152.25" y="396.9" font-size="9.0" text-anchor="middle" fill="#000" >0.5</text>
<text x="178.45" y="396.9" font-size="9.0" text-anchor="middle" fill="#000" >0.6</text>
<text x="204.66" y="396.9" font-size="9.0" text-anchor="middle" fill="#000" >0.7</text>
<text x="230.88" y="396.9" font-size="9.0" text-anchor="middle" fill="#000" >0.8</text>
<text x="248" y="389.2" font-size="9.0" text-anchor="start" fill="#f00" >95</text>
<text x="248" y="347" font-size="9.0" text-anchor="start" fill="#f00" >96</text>
<text x="248" y="304.8" font-size="9.0" text-anchor="start" fill="#f00" >97</text>
<text x="248" y="262.6" font-size="9.0" text-anchor="start" fill="#f00" >98</text>
<text x="248" y="220.4" font-size="9.0" text-anchor="start" fill="#f00" >99</text>
<path d="M196.9,246.4 L183.3,246.4" fill="none" stroke="#000" stroke-width="1.5"/>
<polygon points="175.3,246.4 184.3,244 184.3,248.8" fill="#000"/>
<path d="M202,265.4 L202,255.5 L213.8,255.5" fill="none" stroke="#f00" stroke-width="1.5"/>
<polygon points="221.8,255.5 212.8,257.9 212.8,253.1" fill="#f00"/>
<text x="37.4" y="230.6" font-size="14.8" text-anchor="start" fill="#000" >C</text>
<line x1="55.8" y1="224.9" x2="81.3" y2="224.9" stroke="#000" stroke-width="1.0" />
<rect x="66.85" y="223.2" width="3.4" height="3.4" fill="#000"/>
<text x="84.9" y="228.8" font-size="11" text-anchor="start" fill="#000" >Distillate</text>
<line x1="55.8" y1="240" x2="81.3" y2="240" stroke="#f00" stroke-width="1.0" />
<circle cx="68.55" cy="240" r="2.3" fill="#f00"/>
<text x="84.9" y="243.4" font-size="11" text-anchor="start" fill="#000" >Distillation column</text>
<text x="57.3" y="370.6" font-size="10.0" text-anchor="start" fill="#000" >(<tspan fill="#1a1aff"><tspan font-style="italic">DF</tspan><tspan dx="-1.1"> =</tspan><tspan dx="-1.6"> 0.77, </tspan><tspan font-style="italic">Y</tspan><tspan font-size="6.5" dy="3.0" dx="-0.8">methyl formate</tspan><tspan dy="-3.0" letter-spacing="-0.25">=99.7 %, <tspan font-style="italic">η</tspan> =97.5 %</tspan></tspan>)</text>
<text transform="translate(11.8,301.6) rotate(-90)" font-size="11.8" text-anchor="middle"><tspan font-style="italic">Y</tspan><tspan font-size="7.6" dy="2.6">methyl formate</tspan><tspan dy="-2.6"> (wt%)</tspan></text>
<text transform="translate(270,316) rotate(-90)" font-size="11.3" fill="#f00"><tspan font-style="italic" font-size="12">η</tspan><tspan dx="5.5">(%)</tspan></text>
<text x="139.1" y="413.7" font-size="11.6" text-anchor="middle" fill="#000" font-style="italic" >DF</text>
<line x1="511" y1="244.8" x2="511" y2="383" stroke="#1a1aff" stroke-width="1.8" stroke-dasharray="6.4 6.2"/>
<path d="M313.39,243.61 C314.39,243.82 317.39,244.46 319.38,244.85 C321.38,245.23 323.37,245.55 325.37,245.91 C327.37,246.26 329.36,246.56 331.36,246.97 C333.35,247.38 335.35,247.97 337.35,248.38 C339.34,248.79 341.34,249.03 343.33,249.44 C345.33,249.85 347.33,250.35 349.32,250.85 C351.32,251.35 353.31,251.94 355.31,252.44 C357.31,252.94 359.3,253.42 361.3,253.86 C363.29,254.3 365.29,254.62 367.29,255.09 C369.28,255.57 371.28,256.15 373.27,256.68 C375.27,257.21 377.27,257.69 379.26,258.27 C381.26,258.86 383.25,259.57 385.25,260.22 C387.25,260.87 389.24,261.45 391.24,262.16 C393.23,262.87 395.23,263.69 397.23,264.46 C399.22,265.22 401.22,266.02 403.21,266.75 C405.21,267.49 407.21,268.08 409.2,268.87 C411.2,269.67 413.19,270.61 415.19,271.52 C417.19,272.44 419.18,273.41 421.18,274.35 C423.17,275.29 425.17,276.21 427.17,277.18 C429.16,278.15 431.16,279.06 433.15,280.18 C435.15,281.3 437.15,282.65 439.14,283.89 C441.14,285.13 443.13,286.28 445.13,287.6 C447.13,288.93 449.12,290.4 451.12,291.84 C453.11,293.28 455.11,294.67 457.11,296.26 C459.1,297.85 461.1,299.62 463.09,301.38 C465.09,303.15 467.09,304.92 469.08,306.86 C471.08,308.8 473.07,310.86 475.07,313.04 C477.07,315.22 479.06,317.46 481.06,319.93 C483.05,322.41 485.05,325.06 487.05,327.88 C489.04,330.71 491.04,333.68 493.03,336.89 C495.03,340.1 497.03,343.43 499.02,347.14 C501.02,350.85 503.01,354.88 505.01,359.15 C507.01,363.42 510,370.49 511,372.76" fill="none" stroke="#000" stroke-width="0.9"/>
<rect x="311.59" y="241.81" width="3.6" height="3.6" fill="#000"/>
<rect x="317.58" y="243.05" width="3.6" height="3.6" fill="#000"/>
<rect x="323.57" y="244.11" width="3.6" height="3.6" fill="#000"/>
<rect x="329.56" y="245.17" width="3.6" height="3.6" fill="#000"/>
<rect x="335.55" y="246.58" width="3.6" height="3.6" fill="#000"/>
<rect x="341.53" y="247.64" width="3.6" height="3.6" fill="#000"/>
<rect x="347.52" y="249.05" width="3.6" height="3.6" fill="#000"/>
<rect x="353.51" y="250.64" width="3.6" height="3.6" fill="#000"/>
<rect x="359.5" y="252.06" width="3.6" height="3.6" fill="#000"/>
<rect x="365.49" y="253.29" width="3.6" height="3.6" fill="#000"/>
<rect x="371.47" y="254.88" width="3.6" height="3.6" fill="#000"/>
<rect x="377.46" y="256.47" width="3.6" height="3.6" fill="#000"/>
<rect x="383.45" y="258.42" width="3.6" height="3.6" fill="#000"/>
<rect x="389.44" y="260.36" width="3.6" height="3.6" fill="#000"/>
<rect x="395.43" y="262.66" width="3.6" height="3.6" fill="#000"/>
<rect x="401.41" y="264.95" width="3.6" height="3.6" fill="#000"/>
<rect x="407.4" y="267.07" width="3.6" height="3.6" fill="#000"/>
<rect x="413.39" y="269.72" width="3.6" height="3.6" fill="#000"/>
<rect x="419.38" y="272.55" width="3.6" height="3.6" fill="#000"/>
<rect x="425.37" y="275.38" width="3.6" height="3.6" fill="#000"/>
<rect x="431.35" y="278.38" width="3.6" height="3.6" fill="#000"/>
<rect x="437.34" y="282.09" width="3.6" height="3.6" fill="#000"/>
<rect x="443.33" y="285.8" width="3.6" height="3.6" fill="#000"/>
<rect x="449.32" y="290.04" width="3.6" height="3.6" fill="#000"/>
<rect x="455.31" y="294.46" width="3.6" height="3.6" fill="#000"/>
<rect x="461.29" y="299.58" width="3.6" height="3.6" fill="#000"/>
<rect x="467.28" y="305.06" width="3.6" height="3.6" fill="#000"/>
<rect x="473.27" y="311.24" width="3.6" height="3.6" fill="#000"/>
<rect x="479.26" y="318.13" width="3.6" height="3.6" fill="#000"/>
<rect x="485.25" y="326.08" width="3.6" height="3.6" fill="#000"/>
<rect x="491.23" y="335.09" width="3.6" height="3.6" fill="#000"/>
<rect x="497.22" y="345.34" width="3.6" height="3.6" fill="#000"/>
<rect x="503.21" y="357.35" width="3.6" height="3.6" fill="#000"/>
<rect x="509.2" y="370.96" width="3.6" height="3.6" fill="#000"/>
<polyline points="313.39,257.77 319.38,258.19 325.37,258.61 331.36,259.03 337.35,259.45 343.33,259.87 349.32,260.3 355.31,260.72 361.3,261.14 367.29,261.39 373.27,261.73 379.26,261.98 385.25,262.23 391.24,262.49 397.23,262.82 403.21,263.08 409.2,263.33 415.19,263.67 421.18,263.92 427.17,264.17 433.15,264.51 439.14,264.76 445.13,264.93 451.12,265.18 457.11,265.35 463.09,265.35 469.08,265.35 475.07,265.35 481.06,265.35 487.05,265.35 493.03,265.35 499.02,265.35 505.01,263.67 511,251.87" fill="none" stroke="#f00" stroke-width="0.9" stroke-linejoin="round"/>
<circle cx="313.39" cy="257.77" r="2.2" fill="#f00"/>
<circle cx="319.38" cy="258.19" r="2.2" fill="#f00"/>
<circle cx="325.37" cy="258.61" r="2.2" fill="#f00"/>
<circle cx="331.36" cy="259.03" r="2.2" fill="#f00"/>
<circle cx="337.35" cy="259.45" r="2.2" fill="#f00"/>
<circle cx="343.33" cy="259.87" r="2.2" fill="#f00"/>
<circle cx="349.32" cy="260.3" r="2.2" fill="#f00"/>
<circle cx="355.31" cy="260.72" r="2.2" fill="#f00"/>
<circle cx="361.3" cy="261.14" r="2.2" fill="#f00"/>
<circle cx="367.29" cy="261.39" r="2.2" fill="#f00"/>
<circle cx="373.27" cy="261.73" r="2.2" fill="#f00"/>
<circle cx="379.26" cy="261.98" r="2.2" fill="#f00"/>
<circle cx="385.25" cy="262.23" r="2.2" fill="#f00"/>
<circle cx="391.24" cy="262.49" r="2.2" fill="#f00"/>
<circle cx="397.23" cy="262.82" r="2.2" fill="#f00"/>
<circle cx="403.21" cy="263.08" r="2.2" fill="#f00"/>
<circle cx="409.2" cy="263.33" r="2.2" fill="#f00"/>
<circle cx="415.19" cy="263.67" r="2.2" fill="#f00"/>
<circle cx="421.18" cy="263.92" r="2.2" fill="#f00"/>
<circle cx="427.17" cy="264.17" r="2.2" fill="#f00"/>
<circle cx="433.15" cy="264.51" r="2.2" fill="#f00"/>
<circle cx="439.14" cy="264.76" r="2.2" fill="#f00"/>
<circle cx="445.13" cy="264.93" r="2.2" fill="#f00"/>
<circle cx="451.12" cy="265.18" r="2.2" fill="#f00"/>
<circle cx="457.11" cy="265.35" r="2.2" fill="#f00"/>
<circle cx="463.09" cy="265.35" r="2.2" fill="#f00"/>
<circle cx="469.08" cy="265.35" r="2.2" fill="#f00"/>
<circle cx="475.07" cy="265.35" r="2.2" fill="#f00"/>
<circle cx="481.06" cy="265.35" r="2.2" fill="#f00"/>
<circle cx="487.05" cy="265.35" r="2.2" fill="#f00"/>
<circle cx="493.03" cy="265.35" r="2.2" fill="#f00"/>
<circle cx="499.02" cy="265.35" r="2.2" fill="#f00"/>
<circle cx="505.01" cy="263.67" r="2.2" fill="#f00"/>
<circle cx="511" cy="251.87" r="2.2" fill="#f00"/>
<path d="M310.4 383.3 V214.8 H519.6" fill="none" stroke="#000" stroke-width="1.3" stroke-linecap="square"/>
<line x1="310.4" y1="383.3" x2="519.6" y2="383.3" stroke="#000" stroke-width="1.3" stroke-linecap="square"/>
<line x1="519.6" y1="214.8" x2="519.6" y2="383.3" stroke="#f00" stroke-width="1.3" stroke-linecap="square"/>
<line x1="310.4" y1="374.7" x2="313.6" y2="374.7" stroke="#000" stroke-width="1.25" />
<line x1="310.4" y1="348.2" x2="313.6" y2="348.2" stroke="#000" stroke-width="1.25" />
<line x1="310.4" y1="321.7" x2="313.6" y2="321.7" stroke="#000" stroke-width="1.25" />
<line x1="310.4" y1="295.2" x2="313.6" y2="295.2" stroke="#000" stroke-width="1.25" />
<line x1="310.4" y1="268.7" x2="313.6" y2="268.7" stroke="#000" stroke-width="1.25" />
<line x1="310.4" y1="242.2" x2="313.6" y2="242.2" stroke="#000" stroke-width="1.25" />
<line x1="310.4" y1="215.7" x2="313.6" y2="215.7" stroke="#000" stroke-width="1.25" />
<line x1="310.4" y1="361.45" x2="312.2" y2="361.45" stroke="#000" stroke-width="1.25" />
<line x1="310.4" y1="334.95" x2="312.2" y2="334.95" stroke="#000" stroke-width="1.25" />
<line x1="310.4" y1="308.45" x2="312.2" y2="308.45" stroke="#000" stroke-width="1.25" />
<line x1="310.4" y1="281.95" x2="312.2" y2="281.95" stroke="#000" stroke-width="1.25" />
<line x1="310.4" y1="255.45" x2="312.2" y2="255.45" stroke="#000" stroke-width="1.25" />
<line x1="310.4" y1="228.95" x2="312.2" y2="228.95" stroke="#000" stroke-width="1.25" />
<line x1="310.4" y1="383.3" x2="310.4" y2="380.1" stroke="#000" stroke-width="1.25" />
<line x1="340.34" y1="383.3" x2="340.34" y2="380.1" stroke="#000" stroke-width="1.25" />
<line x1="370.28" y1="383.3" x2="370.28" y2="380.1" stroke="#000" stroke-width="1.25" />
<line x1="400.22" y1="383.3" x2="400.22" y2="380.1" stroke="#000" stroke-width="1.25" />
<line x1="430.16" y1="383.3" x2="430.16" y2="380.1" stroke="#000" stroke-width="1.25" />
<line x1="460.1" y1="383.3" x2="460.1" y2="380.1" stroke="#000" stroke-width="1.25" />
<line x1="490.04" y1="383.3" x2="490.04" y2="380.1" stroke="#000" stroke-width="1.25" />
<line x1="519.98" y1="383.3" x2="519.98" y2="380.1" stroke="#000" stroke-width="1.25" />
<line x1="325.37" y1="383.3" x2="325.37" y2="381.5" stroke="#000" stroke-width="1.25" />
<line x1="355.31" y1="383.3" x2="355.31" y2="381.5" stroke="#000" stroke-width="1.25" />
<line x1="385.25" y1="383.3" x2="385.25" y2="381.5" stroke="#000" stroke-width="1.25" />
<line x1="415.19" y1="383.3" x2="415.19" y2="381.5" stroke="#000" stroke-width="1.25" />
<line x1="445.13" y1="383.3" x2="445.13" y2="381.5" stroke="#000" stroke-width="1.25" />
<line x1="475.07" y1="383.3" x2="475.07" y2="381.5" stroke="#000" stroke-width="1.25" />
<line x1="505.01" y1="383.3" x2="505.01" y2="381.5" stroke="#000" stroke-width="1.25" />
<line x1="516.4" y1="383.3" x2="519.6" y2="383.3" stroke="#f00" stroke-width="1.25" />
<line x1="516.4" y1="341.18" x2="519.6" y2="341.18" stroke="#f00" stroke-width="1.25" />
<line x1="516.4" y1="299.05" x2="519.6" y2="299.05" stroke="#f00" stroke-width="1.25" />
<line x1="516.4" y1="256.93" x2="519.6" y2="256.93" stroke="#f00" stroke-width="1.25" />
<line x1="516.4" y1="214.8" x2="519.6" y2="214.8" stroke="#f00" stroke-width="1.25" />
<line x1="517.8" y1="362.24" x2="519.6" y2="362.24" stroke="#f00" stroke-width="1.25" />
<line x1="517.8" y1="320.11" x2="519.6" y2="320.11" stroke="#f00" stroke-width="1.25" />
<line x1="517.8" y1="277.99" x2="519.6" y2="277.99" stroke="#f00" stroke-width="1.25" />
<line x1="517.8" y1="235.86" x2="519.6" y2="235.86" stroke="#f00" stroke-width="1.25" />
<text x="306.6" y="378.3" font-size="9.0" text-anchor="end" fill="#000" >0</text>
<text x="306.6" y="351.8" font-size="9.0" text-anchor="end" fill="#000" >15</text>
<text x="306.6" y="325.3" font-size="9.0" text-anchor="end" fill="#000" >30</text>
<text x="306.6" y="298.8" font-size="9.0" text-anchor="end" fill="#000" >45</text>
<text x="306.6" y="272.3" font-size="9.0" text-anchor="end" fill="#000" >60</text>
<text x="306.6" y="245.8" font-size="9.0" text-anchor="end" fill="#000" >75</text>
<text x="306.6" y="219.3" font-size="9.0" text-anchor="end" fill="#000" >90</text>
<text x="310.4" y="394.6" font-size="9.0" text-anchor="middle" fill="#000" >0.1</text>
<text x="340.34" y="394.6" font-size="9.0" text-anchor="middle" fill="#000" >0.2</text>
<text x="370.28" y="394.6" font-size="9.0" text-anchor="middle" fill="#000" >0.3</text>
<text x="400.22" y="394.6" font-size="9.0" text-anchor="middle" fill="#000" >0.4</text>
<text x="430.16" y="394.6" font-size="9.0" text-anchor="middle" fill="#000" >0.5</text>
<text x="460.1" y="394.6" font-size="9.0" text-anchor="middle" fill="#000" >0.6</text>
<text x="490.04" y="394.6" font-size="9.0" text-anchor="middle" fill="#000" >0.7</text>
<text x="519.98" y="394.6" font-size="9.0" text-anchor="middle" fill="#000" >0.8</text>
<text x="524.3" y="386.9" font-size="9.0" text-anchor="start" fill="#f00" >3.0</text>
<text x="524.3" y="344.78" font-size="9.0" text-anchor="start" fill="#f00" >3.5</text>
<text x="524.3" y="302.65" font-size="9.0" text-anchor="start" fill="#f00" >4.0</text>
<text x="524.3" y="260.53" font-size="9.0" text-anchor="start" fill="#f00" >4.5</text>
<text x="524.3" y="218.4" font-size="9.0" text-anchor="start" fill="#f00" >5.0</text>
<path d="M463,301.6 L450.2,301.6" fill="none" stroke="#000" stroke-width="1.5"/>
<polygon points="442.2,301.6 451.2,299.2 451.2,304" fill="#000"/>
<path d="M462.8,265.5 L462.8,254.5 L479.8,254.5" fill="none" stroke="#f00" stroke-width="1.5"/>
<polygon points="487.8,254.5 478.8,256.9 478.8,252.1" fill="#f00"/>
<text x="311.8" y="227.8" font-size="14.6" text-anchor="start" fill="#000" >D</text>
<line x1="350.5" y1="222.9" x2="375.8" y2="222.9" stroke="#000" stroke-width="1.0" />
<rect x="361.45" y="221.2" width="3.4" height="3.4" fill="#000"/>
<text x="379.2" y="226.8" font-size="11" text-anchor="start" fill="#000" >Residual waste liquid</text>
<line x1="350.5" y1="236.4" x2="375.8" y2="236.4" stroke="#f00" stroke-width="1.0" />
<circle cx="363.15" cy="236.4" r="2.3" fill="#f00"/>
<text x="379.2" y="239.9" font-size="11" text-anchor="start" fill="#000" >Reflux tank</text>
<text x="313.3" y="366.7" font-size="10.45" text-anchor="start" fill="#000" ><tspan fill="#1a1aff">(<tspan font-style="italic">DF</tspan>=0.77, <tspan font-style="italic">C</tspan><tspan font-size="7.0" dy="3.0">methyl formate</tspan><tspan dy="-3.0">=1.0 wt%, </tspan><tspan font-style="italic">RR</tspan>=4.56)</tspan></text>
<text transform="translate(292.5,299.5) rotate(-90) scale(1.035,1)" font-size="11.3" text-anchor="middle"><tspan font-style="italic">C</tspan><tspan font-size="7.3" dy="2.3">methyl formate</tspan><tspan dy="-2.3"> (wt%)</tspan></text>
<text transform="translate(546.5,300) rotate(-90)" font-size="11" text-anchor="middle" font-style="italic" fill="#f00">RR</text>
<text x="414.9" y="411.2" font-size="11.6" text-anchor="middle" fill="#000" font-style="italic" >DF</text>
</svg>
</body></html>
